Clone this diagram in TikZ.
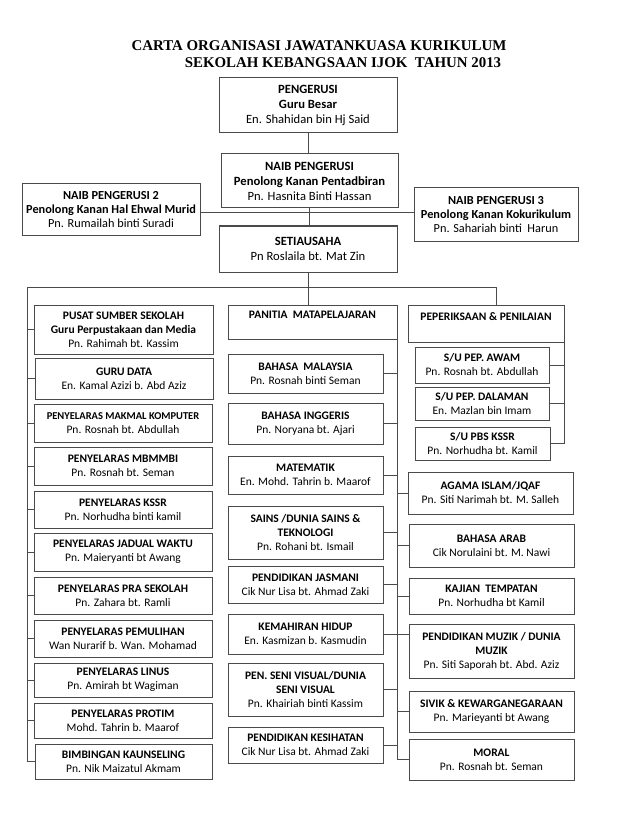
\documentclass[tikz,border=0pt]{standalone}
\usepackage{fontspec}
\setmainfont{Carlito}
\newfontfamily\titlefont{Liberation Serif}
\definecolor{linegray}{HTML}{4A4A4A}
\tikzset{
  box/.style={draw=linegray, line width=1pt, rectangle, inner sep=0pt, outer sep=0pt,
    align=center, font=\fontsize{11.5}{14}\selectfont, text=black},
  topbox/.style={box, font=\fontsize{12.6}{15}\selectfont},
  conn/.style={draw=linegray, line width=1pt},
  ttl/.style={font=\titlefont\bfseries\fontsize{14.9}{17}\selectfont, inner sep=0pt, anchor=center}
}
\newcommand\bx[7][]{\node[box,#1,minimum width={(#5-#3)*1pt},minimum height={(#6-#4)*1pt}] (#2) at ({(#3+#5)/2},{(#4+#6)/2}) {#7};}
\begin{document}
\begin{tikzpicture}[x=1pt,y=-1pt]
\useasboundingbox[fill=white] (0,0) rectangle (638,826);
% title
\node[ttl] (t1) at (319,46) {CARTA ORGANISASI JAWATANKUASA KURIKULUM};
\node[ttl] (t2) at (343,63) {SEKOLAH KEBANGSAAN IJOK\ \ TAHUN 2013};
% top
\bx[topbox]{peng}{219}{78}{397}{133}{\textbf{PENGERUSI}\\\textbf{Guru Besar}\\En. Shahidan bin Hj Said}
\bx[topbox]{naib}{221}{154}{398}{208}{\textbf{NAIB PENGERUSI}\\\textbf{Penolong Kanan Pentadbiran}\\Pn. Hasnita Binti Hassan}
\bx[box,font=\fontsize{12.3}{14.2}\selectfont]{naibb}{22}{184}{200}{235}{\textbf{NAIB PENGERUSI 2}\\\textbf{Penolong Kanan Hal Ehwal Murid}\\Pn. Rumailah binti Suradi}
\bx[box,font=\fontsize{12.3}{14.2}\selectfont]{naibc}{414}{188}{578}{241}{\textbf{NAIB PENGERUSI 3}\\\textbf{Penolong Kanan Kokurikulum}\\Pn. Sahariah binti\ \ Harun}
\bx[topbox]{set}{219}{226}{397}{272}{\textbf{SETIAUSAHA}\\Pn Roslaila bt. Mat Zin}
% column heads
\bx{pan}{228}{305}{397}{339}{\textbf{PANITIA\ \ MATAPELAJARAN}\\\mbox{}}
\bx{pep}{408}{305}{564}{342}{\textbf{PEPERIKSAAN \& PENILAIAN}\\\mbox{}}
% left column
\bx{pss}{34}{305}{213}{354}{\textbf{PUSAT SUMBER SEKOLAH}\\\textbf{Guru Perpustakaan dan Media}\\Pn. Rahimah bt. Kassim}
\bx{gd}{35}{358}{213}{399}{\textbf{GURU DATA}\\En. Kamal Azizi b. Abd Aziz}
\bx[box,font=\fontsize{10.5}{13.5}\selectfont]{mak}{34}{404}{212}{442}{\textbf{PENYELARAS MAKMAL KOMPUTER}\\{\fontsize{11.5}{13.5}\selectfont Pn. Rosnah bt. Abdullah}}
\bx{mbm}{34}{447}{212}{485}{\textbf{PENYELARAS MBMMBI}\\Pn. Rosnah bt. Seman}
\bx{kssr}{34}{491}{212}{528}{\textbf{PENYELARAS KSSR}\\Pn. Norhudha binti kamil}
\bx{jw}{34}{533}{212}{571}{\textbf{PENYELARAS JADUAL WAKTU}\\Pn. Maieryanti bt Awang}
\bx{pra}{34}{577}{212}{614}{\textbf{PENYELARAS PRA SEKOLAH}\\Pn. Zahara bt. Ramli}
\bx{pem}{34}{620}{212}{657}{\textbf{PENYELARAS PEMULIHAN}\\Wan Nurarif b. Wan. Mohamad}
\bx{lin}{34}{663}{212}{697}{\textbf{PENYELARAS LINUS}\\Pn. Amirah bt Wagiman}
\bx{pro}{34}{703}{212}{738}{\textbf{PENYELARAS PROTIM}\\Mohd. Tahrin b. Maarof}
\bx{bim}{35}{744}{212}{779}{\textbf{BIMBINGAN KAUNSELING}\\Pn. Nik Maizatul Akmam}
% middle column
\bx{bm}{228}{354}{383}{393}{\textbf{BAHASA\ \ MALAYSIA}\\Pn. Rosnah binti Seman}
\bx{bi}{228}{403}{383}{444}{\textbf{BAHASA INGGERIS}\\Pn. Noryana bt. Ajari}
\bx{mat}{228}{456}{383}{494}{\textbf{MATEMATIK}\\En. Mohd. Tahrin b. Maarof}
\bx{sains}{228}{506}{383}{559}{\textbf{SAINS /DUNIA SAINS \&}\\\textbf{TEKNOLOGI}\\Pn. Rohani bt. Ismail}
\bx{pj}{228}{566}{383}{603}{\textbf{PENDIDIKAN JASMANI}\\Cik Nur Lisa bt. Ahmad Zaki}
\bx{kh}{228}{614}{383}{654}{\textbf{KEMAHIRAN HIDUP}\\En. Kasmizan b. Kasmudin}
\bx{psv}{228}{663}{383}{716}{\textbf{PEN. SENI VISUAL/DUNIA}\\\textbf{SENI VISUAL}\\Pn. Khairiah binti Kassim}
\bx{pk}{228}{727}{383}{763}{\textbf{PENDIDIKAN KESIHATAN}\\Cik Nur Lisa bt. Ahmad Zaki}
% right column
\bx{awam}{415}{347}{549}{383}{\textbf{S/U PEP. AWAM}\\Pn. Rosnah bt. Abdullah}
\bx{dal}{415}{387}{549}{420}{\textbf{S/U PEP. DALAMAN}\\En. Mazlan bin Imam}
\bx{pbs}{415}{427}{550}{460}{\textbf{S/U PBS KSSR}\\Pn. Norhudha bt. Kamil}
\bx{ais}{408}{472}{573}{514}{\textbf{AGAMA ISLAM/JQAF}\\Pn. Siti Narimah bt. M. Salleh}
\bx{ba}{409}{524}{574}{567}{\textbf{BAHASA ARAB}\\Cik Norulaini bt. M. Nawi}
\bx{kt}{409}{578}{574}{614}{\textbf{KAJIAN\ \ TEMPATAN}\\Pn. Norhudha bt Kamil}
\bx{muz}{409}{624}{574}{678}{\textbf{PENDIDIKAN MUZIK / DUNIA}\\\textbf{MUZIK}\\Pn. Siti Saporah bt. Abd. Aziz}
\bx{siv}{409}{691}{574}{732}{\textbf{SIVIK \& KEWARGANEGARAAN}\\Pn. Marieyanti bt Awang}
\bx{mor}{409}{739}{574}{780}{\textbf{MORAL}\\Pn. Rosnah bt. Seman}
% helper coordinates
\coordinate (hn) at (0,213);
\coordinate (busL) at (27,287);
\coordinate (busR) at (496,287);
% connectors
\draw[conn] (peng.south) -- (peng.south |- naib.north);
\draw[conn] (naib.south) -- (naib.south |- set.north);
\draw[conn] (naibb.east |- hn) -- (naibc.west |- hn);
\draw[conn] (set.south) -- (set.south |- pan.north);
\draw[conn] (busL) -- (busR);
\draw[conn] (busR) -- (busR |- pep.north);
% left bus
\draw[conn] (busL) -- (busL |- bim.west) -- (bim.west);
\foreach \n in {pss,gd,mak,mbm,kssr,jw,pra,pem,lin,pro}
  \draw[conn] (\n.west) -- (\n.west -| busL);
% middle bus
\draw[conn] (pan.south east) -- (pan.south east |- mor.west) -- (mor.west);
\foreach \n in {bm,bi,mat,sains,pj,psv,pk}
  \draw[conn] (\n.east) -- (\n.east -| pan.east);
\foreach \n in {ais,ba,kt,siv}
  \draw[conn] (\n.west) -- (\n.west -| pan.east);
\draw[conn] (kh.east) -- (kh.east -| muz.west);
% right bus
\draw[conn] (pep.south east) -- (pep.south east |- pbs.east) -- (pbs.east);
\foreach \n in {awam,dal}
  \draw[conn] (\n.east) -- (\n.east -| pep.east);
\end{tikzpicture}
\end{document}
